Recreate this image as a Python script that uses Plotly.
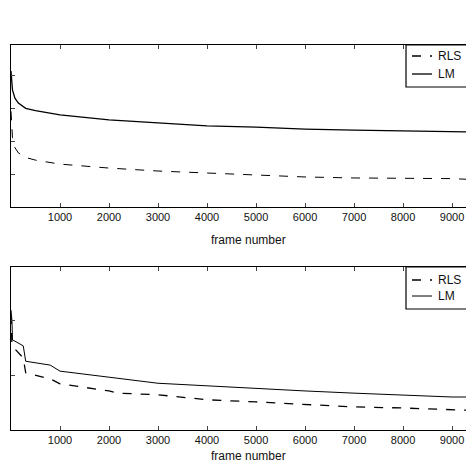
import plotly.graph_objects as go

# top panel
lm1_x = [0, 10, 30, 80, 150, 300, 500, 1000, 2000, 3000, 4000, 5000, 6000, 7000, 8000, 9000, 9620]
lm1_y = [4.12, 3.85, 3.55, 3.3, 3.15, 2.99, 2.92, 2.79, 2.64, 2.55, 2.46, 2.42, 2.36, 2.33, 2.31, 2.29, 2.27]
rls1_x = [0, 10, 30, 80, 150, 300, 500, 1000, 2000, 3000, 4000, 5000, 6000, 7000, 8000, 9000, 9620]
rls1_y = [2.9, 2.5, 2.1, 1.8, 1.64, 1.5, 1.42, 1.30, 1.18, 1.09, 1.03, 0.97, 0.91, 0.88, 0.87, 0.86, 0.82]
# bottom panel
lm2_x = [0, 20, 30, 250, 300, 800, 1000, 1500, 2000, 3000, 4000, 5000, 6000, 7000, 8000, 9000, 9620]
lm2_y = [2.18, 1.98, 1.64, 1.53, 1.25, 1.18, 1.07, 1.02, 0.96, 0.85, 0.80, 0.75, 0.71, 0.67, 0.64, 0.60, 0.60]
rls2_x = [0, 20, 250, 300, 800, 1000, 2000, 2200, 3000, 4000, 5000, 6000, 7000, 8000, 9000, 9620]
rls2_y = [2.09, 1.53, 1.31, 1.04, 0.93, 0.84, 0.71, 0.67, 0.64, 0.55, 0.51, 0.46, 0.42, 0.40, 0.37, 0.35]
xticks = [0, 1000, 2000, 3000, 4000, 5000, 6000, 7000, 8000, 9000]
xticklabels = ["", "1000", "2000", "3000", "4000", "5000", "6000", "7000", "8000", "9000"]
legend_names = ["RLS", "LM"]

fig = go.Figure()
fig.add_trace(go.Scatter(x=rls1_x, y=rls1_y, mode="lines", line=dict(color="black", width=1, dash="dash"), xaxis="x", yaxis="y"))
fig.add_trace(go.Scatter(x=lm1_x, y=lm1_y, mode="lines", line=dict(color="black", width=1.3), xaxis="x", yaxis="y"))
fig.add_trace(go.Scatter(x=rls2_x, y=rls2_y, mode="lines", line=dict(color="black", width=1.3, dash="dash"), xaxis="x2", yaxis="y2"))
fig.add_trace(go.Scatter(x=lm2_x, y=lm2_y, mode="lines", line=dict(color="black", width=1), xaxis="x2", yaxis="y2"))

XR = [0, 9612]
ax = dict(range=XR, domain=[3/474, 1], tickvals=xticks, ticktext=xticklabels, ticks="inside", ticklen=4, mirror="ticks",
          showline=True, linecolor="black", linewidth=1, showgrid=False, zeroline=False,
          tickfont=dict(family="Arial", size=11, color="#111"))
ay = dict(ticks="inside", ticklen=4, mirror="ticks", showline=True, linecolor="black", linewidth=1,
          showgrid=False, zeroline=False, showticklabels=False)
fig.update_layout(
    width=474, height=474, margin=dict(l=0, r=0, t=0, b=0), showlegend=False,
    plot_bgcolor="white", paper_bgcolor="white",
    xaxis=dict(ax, anchor="y"),
    yaxis=dict(ay, range=[0, 162/33], tickvals=[1, 2, 3, 4], domain=[1-199/474, 1-37/474], anchor="x"),
    xaxis2=dict(ax, anchor="y2"),
    yaxis2=dict(ay, range=[0, 163/55], tickvals=[1, 2], domain=[1-422/474, 1-259/474], anchor="x2"),
)

def px2x(p):
    return (p - 3) / 49 * 1000

for yref, top, bot, rows, widths in [("y", 37, 79, [48, 66], [1.3, 1.3]), ("y2", 259, 301, [272, 288], [1.5, 1])]:
    ybot = 199 if yref == "y" else 422
    sc = 33 if yref == "y" else 55
    def py2y(p):
        return (ybot - p) / sc
    xr = "x" if yref == "y" else "x2"
    fig.add_shape(type="rect", xref=xr, yref=yref, x0=px2x(398), x1=px2x(480), y0=py2y(bot), y1=py2y(top),
                  line=dict(color="black", width=1.2), fillcolor="white")
    for i, (r, name) in enumerate(zip(rows, legend_names)):
        fig.add_shape(type="line", xref=xr, yref=yref, x0=px2x(404), x1=px2x(424), y0=py2y(r), y1=py2y(r),
                      line=dict(color="black", width=widths[i], dash="dash" if i == 0 else "solid"))
        fig.add_annotation(xref=xr, yref=yref, x=px2x(428), y=py2y(r), text=name, showarrow=False,
                           xanchor="left", font=dict(family="Arial", size=12, color="#111"))

fig.add_annotation(xref="paper", yref="paper", x=240/474, y=1-232/474, text="frame number", showarrow=False,
                   font=dict(family="Arial", size=12, color="#111"))
fig.add_annotation(xref="paper", yref="paper", x=240/474, y=1-457/474, text="frame number", showarrow=False,
                   font=dict(family="Arial", size=12, color="#111"))
fig.write_html("out.html")
